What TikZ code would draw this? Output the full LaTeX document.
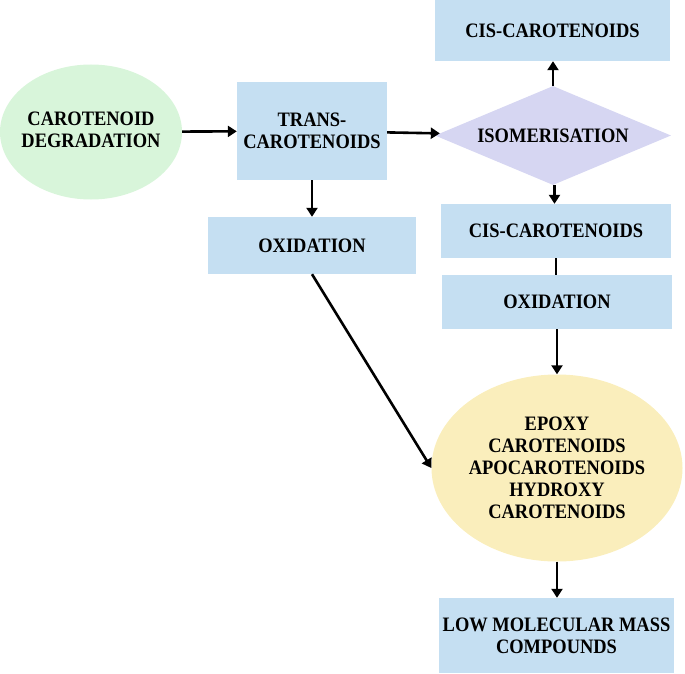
\documentclass[tikz,border=0pt]{standalone}
\usepackage{fontspec}
\setmainfont{Liberation Serif}[FakeStretch=0.9]
\usetikzlibrary{shapes.geometric,arrows.meta}
\definecolor{boxblue}{RGB}{197,223,242}
\definecolor{ellgreen}{RGB}{216,245,218}
\definecolor{lav}{RGB}{214,214,242}
\definecolor{ellyellow}{RGB}{250,238,188}
\tikzset{
  txt/.style={font=\bfseries\fontsize{20.5}{22}\selectfont, align=center, text=black},
  bluebox/.style={txt, rectangle, fill=boxblue, draw=none, inner sep=0pt},
  ellshape/.style={ellipse, draw=none, inner sep=0pt},
  dshape/.style={txt, diamond, fill=lav, draw=none, aspect=2.4, inner sep=1pt},
  arr/.style={line width=2.6pt, -{Triangle[length=9pt,width=11pt]}},
  plain/.style={line width=2.6pt}
}
\begin{document}
\begin{tikzpicture}[x=1pt,y=1pt]
\useasboundingbox (0,0) rectangle (685,-674);
% nodes
\node[ellshape, fill=ellgreen, minimum width=182pt, minimum height=135pt] (deg) at (91,-132) {};
\node[txt] (degtxt) at (91,-130) {CAROTENOID\\DEGRADATION};
\node[bluebox, minimum width=150pt, minimum height=98pt] (trans) at (312,-131) {TRANS-\\CAROTENOIDS};
\node[dshape, minimum width=236pt, minimum height=99pt] (iso) at (553,-135.5) {ISOMERISATION};
\node[bluebox, minimum width=235pt, minimum height=61pt] (cis1) at (552.5,-30.5) {CIS-CAROTENOIDS};
\node[bluebox, minimum width=230pt, minimum height=54pt] (cis2) at (556,-231) {CIS-CAROTENOIDS};
\node[bluebox, minimum width=230pt, minimum height=54pt] (ox2) at (557,-302) {OXIDATION};
\node[bluebox, minimum width=208pt, minimum height=57pt] (ox1) at (312,-245.5) {OXIDATION};
\node[txt, ellshape, fill=ellyellow, minimum width=251pt, minimum height=187pt] (prod) at (557,-468)
  {EPOXY\\CAROTENOIDS\\APOCAROTENOIDS\\HYDROXY\\CAROTENOIDS};
\node[bluebox, minimum width=235pt, minimum height=75pt] (low) at (556.5,-635.5) {LOW MOLECULAR MASS\\COMPOUNDS};
% connectors
\draw[arr] (deg) -- (trans);
\draw[arr] (trans) -- (iso);
\draw[arr] (iso.north) -- (iso.north |- cis1.south);
\draw[arr] ([xshift=1.5pt]iso.south) -- ([xshift=1.5pt]iso.south |- cis2.north);
\draw[plain] (cis2.south) -- (ox2.north -| cis2.south);
\draw[arr] (ox2.south) -- (prod.north);
\draw[arr] (trans.south) -- (trans.south |- ox1.north);
\draw[arr] (ox1.south) -- (prod.west);
\draw[arr] (prod.south) -- (prod.south |- low.north);
\end{tikzpicture}
\end{document}
